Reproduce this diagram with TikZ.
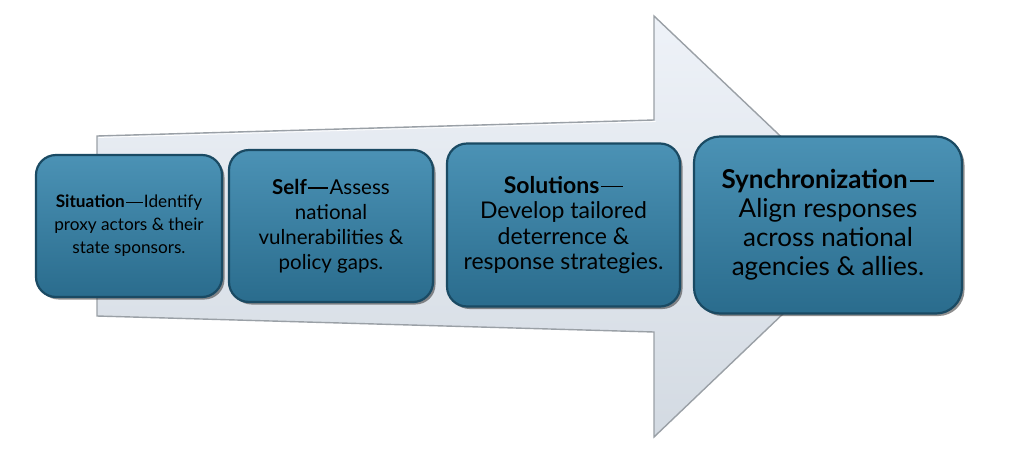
\documentclass[tikz,border=0pt]{standalone}
\usepackage{fontspec}
\setmainfont{Lato}
\usetikzlibrary{shadows}
\definecolor{boxtop}{HTML}{4B92B5}
\definecolor{boxbot}{HTML}{2A6C8D}
\definecolor{boxedge}{HTML}{1A4A63}
\definecolor{arrtop}{HTML}{EEF2F8}
\definecolor{arrbot}{HTML}{D3DAE2}
\definecolor{arredge}{HTML}{9AA0A6}
\newcommand\longdash{\hspace{0.08em}\rule[0.28em]{0.95em}{0.05em}\hspace{0.08em}}
\tikzset{
  stagebox/.style={draw=boxedge, line width=2.2pt, rounded corners=20pt,
    top color=boxtop, bottom color=boxbot, align=center, inner sep=0pt,
    text=black,
    drop shadow={shadow xshift=2.5pt, shadow yshift=-2.5pt, opacity=0.55, fill=black!80}},
  bigarrow/.style={draw=arredge, line width=1.4pt, line join=miter,
    top color=arrtop, bottom color=arrbot},
}
\begin{document}
\begin{tikzpicture}[x=1pt,y=-1pt]
\useasboundingbox (0,0) rectangle (1009,472);
% big arrow
\coordinate (a1) at (97,136);
\coordinate (a2) at (654,120);
\coordinate (a3) at (654,16);
\coordinate (a4) at (875,226);
\coordinate (a5) at (654,437);
\coordinate (a6) at (654,332);
\coordinate (a7) at (97,316);
\path[bigarrow] (a1) -- (a2) -- (a3) -- (a4) -- (a5) -- (a6) -- (a7) -- cycle;
\draw[white, line width=0.8pt] ([shift={(1.5,1.5)}]a1) -- ([shift={(1.5,1.5)}]a2);
% stage boxes
\node[stagebox, minimum width=186pt, minimum height=142pt,
  font=\fontsize{17.2}{23}\selectfont] (s1) at (129,226)
  {\textbf{Situation}\longdash Identify\\proxy actors \& their\\state sponsors.};
\node[stagebox, minimum width=204pt, minimum height=152pt,
  font=\fontsize{20.5}{25}\selectfont] (s2) at (331,226)
  {\textbf{Self}\longdash Assess\\national\\vulnerabilities \&\\policy gaps.};
\node[stagebox, minimum width=233pt, minimum height=163pt,
  font=\fontsize{23}{25.5}\selectfont] (s3) at (563.5,225)
  {\textbf{Solutions}\longdash\\Develop tailored\\deterrence \&\\response strategies.};
\node[stagebox, minimum width=268pt, minimum height=177pt, rounded corners=26pt,
  font=\fontsize{26}{29}\selectfont] (s4) at (828,225)
  {\textbf{Synchronization}\longdash\\Align responses\\across national\\agencies \& allies.};
\end{tikzpicture}
\end{document}
